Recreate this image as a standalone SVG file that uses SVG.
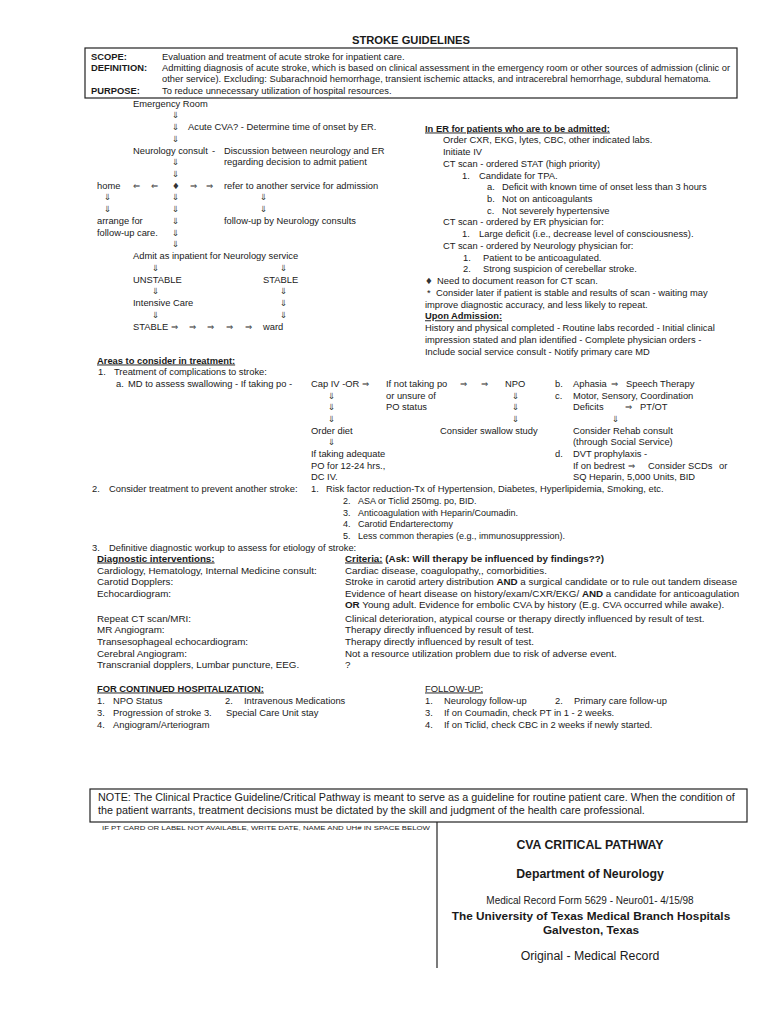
<svg xmlns="http://www.w3.org/2000/svg" width="768" height="1024" viewBox="0 0 768 1024" xml:space="preserve">
<style>
text{font-family:"Liberation Sans",Arial,Helvetica,sans-serif;font-size:9.35px;fill:#1a1a1a}
.b{font-weight:bold}
.u{text-decoration:underline}
.ar{font-family:"DejaVu Sans",sans-serif;font-size:8.6px;fill:#333}
.box{fill:none;stroke:#222;stroke-width:1.2}
.c{text-anchor:middle}
.big{font-size:12.3px;font-weight:bold}
.uni{font-size:11.8px;font-weight:bold}
.d text{font-size:9.8px}
.n text{font-size:10.75px}
.sm{font-size:9px}
</style>
<rect width="768" height="1024" fill="#fff"/>

<g id="header">
<text x="411" y="44" class="b c" style="font-size:11.2px">STROKE GUIDELINES</text>
<rect x="85" y="48" width="652" height="50" class="box"/>
<text x="91" y="59.5" class="b">SCOPE:</text>
<text x="162" y="59.5">Evaluation and treatment of acute stroke for inpatient care.</text>
<text x="91" y="70.5" class="b">DEFINITION:</text>
<text x="162" y="70.5">Admitting diagnosis of acute stroke, which is based on clinical assessment in the emergency room or other sources of admission (clinic or</text>
<text x="162" y="82">other service). Excluding: Subarachnoid hemorrhage, transient ischemic attacks, and intracerebral hemorrhage, subdural hematoma.</text>
<text x="91" y="93.5" class="b">PURPOSE:</text>
<text x="162" y="93.5">To reduce unnecessary utilization of hospital resources.</text>
</g>

<g id="n-er"><text x="133" y="106.5">Emergency Room</text></g>
<g id="n-acute"><text x="188" y="130">Acute CVA?  -  Determine time of onset by ER.</text></g>
<g id="n-neuro"><text x="133" y="153.5">Neurology consult</text><text x="212" y="153.5">-</text><text x="224" y="153.5">Discussion between neurology and ER</text><text x="224" y="165.2">regarding decision to admit patient</text></g>
<g id="n-home"><text x="97" y="188.7">home</text></g>
<g id="n-decision"><text x="172" y="188.7" class="ar">♦</text></g>
<g id="n-refer"><text x="224" y="188.7">refer to another service for admission</text></g>
<g id="n-arrange"><text x="97" y="223.9">arrange for</text><text x="97" y="235.6">follow-up care.</text></g>
<g id="n-followup"><text x="224" y="223.9">follow-up by Neurology consults</text></g>
<g id="n-admit"><text x="133" y="259.1">Admit as inpatient for Neurology service</text></g>
<g id="n-unstable"><text x="133" y="282.6">UNSTABLE</text></g>
<g id="n-stable1"><text x="263" y="282.6">STABLE</text></g>
<g id="n-icu"><text x="133" y="306.1">Intensive Care</text></g>
<g id="n-stable2"><text x="133" y="329.6">STABLE</text></g>
<g id="n-ward"><text x="263" y="329.6">ward</text></g>

<g id="connectors">
<text x="172" y="118.2" class="ar">⇓</text>
<text x="172" y="130" class="ar">⇓</text>
<text x="172" y="141.7" class="ar">⇓</text>
<text x="172" y="165.2" class="ar">⇓</text>
<text x="172" y="176.9" class="ar">⇓</text>
<text x="133" y="188.7" class="ar">⇐</text>
<text x="151" y="188.7" class="ar">⇐</text>
<text x="190" y="188.7" class="ar">⇒</text>
<text x="206" y="188.7" class="ar">⇒</text>
<text x="104" y="200.4" class="ar">⇓</text>
<text x="172" y="200.4" class="ar">⇓</text>
<text x="260" y="200.4" class="ar">⇓</text>
<text x="104" y="212.2" class="ar">⇓</text>
<text x="172" y="212.2" class="ar">⇓</text>
<text x="260" y="212.2" class="ar">⇓</text>
<text x="172" y="223.9" class="ar">⇓</text>
<text x="172" y="235.6" class="ar">⇓</text>
<text x="172" y="247.4" class="ar">⇓</text>
<text x="152" y="270.9" class="ar">⇓</text>
<text x="280" y="270.9" class="ar">⇓</text>
<text x="152" y="294.3" class="ar">⇓</text>
<text x="280" y="294.3" class="ar">⇓</text>
<text x="280" y="306.1" class="ar">⇓</text>
<text x="152" y="317.8" class="ar">⇓</text>
<text x="280" y="317.8" class="ar">⇓</text>
<text x="171" y="329.6" class="ar">⇒</text>
<text x="189" y="329.6" class="ar">⇒</text>
<text x="207" y="329.6" class="ar">⇒</text>
<text x="226" y="329.6" class="ar">⇒</text>
<text x="245" y="329.6" class="ar">⇒</text>
</g>

<g id="er-orders">
<text x="425" y="131.5" class="b u">In ER for patients who are to be admitted:</text>
<text x="443" y="143.2">Order CXR, EKG, lytes, CBC, other indicated labs.</text>
<text x="443" y="155">Initiate IV</text>
<text x="443" y="166.7">CT scan - ordered STAT (high priority)</text>
<text x="462" y="178.5">1.</text><text x="479" y="178.5">Candidate for TPA.</text>
<text x="487" y="190.2">a.</text><text x="502" y="190.2">Deficit with known time of onset less than 3 hours</text>
<text x="487" y="201.9">b.</text><text x="502" y="201.9">Not on anticoagulants</text>
<text x="487" y="213.7">c.</text><text x="502" y="213.7">Not severely hypertensive</text>
<text x="443" y="225.4">CT scan - ordered by ER physician for:</text>
<text x="462" y="237.2">1.</text><text x="479" y="237.2">Large deficit (i.e., decrease level of consciousness).</text>
<text x="443" y="248.9">CT scan - ordered by Neurology physician for:</text>
<text x="463" y="260.6">1.</text><text x="483" y="260.6">Patient to be anticoagulated.</text>
<text x="463" y="272.4">2.</text><text x="483" y="272.4">Strong suspicion of cerebellar stroke.</text>
<text x="425" y="284.1" class="ar">♦</text><text x="437" y="284.1">Need to document reason for CT scan.</text>
<text x="427" y="295.9">*</text><text x="436" y="295.9">Consider later if patient is stable and results of scan - waiting may</text>
<text x="425" y="307.6">improve diagnostic accuracy, and less likely to repeat.</text>
<text x="425" y="319.3" class="b u">Upon Admission:</text>
<text x="425" y="331.1">History and physical completed - Routine labs recorded - Initial clinical</text>
<text x="425" y="342.8">impression stated and plan identified - Complete physician orders  -</text>
<text x="425" y="354.6">Include social service consult - Notify primary care MD</text>
</g>

<g id="areas">
<text x="97" y="363.5" class="b u">Areas to consider in treatment:</text>
<text x="98" y="375.2">1.</text><text x="114" y="375.2">Treatment of complications to stroke:</text>
<text x="116" y="386.9">a.</text><text x="128" y="386.9">MD to assess swallowing - If taking po -</text>
<text x="311" y="386.9">Cap IV -OR</text><text x="362" y="386.9" class="ar">⇒</text>
<text x="386" y="386.9">If not taking po</text><text x="460" y="386.9" class="ar">⇒</text><text x="481" y="386.9" class="ar">⇒</text>
<text x="505" y="386.9">NPO</text>
<text x="555" y="386.9">b.</text><text x="573" y="386.9">Aphasia</text><text x="611" y="386.9" class="ar">⇒</text><text x="626" y="386.9">Speech Therapy</text>
<text x="328" y="398.6" class="ar">⇓</text><text x="386" y="398.6">or unsure of</text><text x="512" y="398.6" class="ar">⇓</text>
<text x="555" y="398.6">c.</text><text x="573" y="398.6">Motor, Sensory, Coordination</text>
<text x="328" y="410.3" class="ar">⇓</text><text x="386" y="410.3">PO status</text><text x="512" y="410.3" class="ar">⇓</text>
<text x="573" y="410.3">Deficits</text><text x="625" y="410.3" class="ar">⇒</text><text x="640" y="410.3">PT/OT</text>
<text x="328" y="421.9" class="ar">⇓</text><text x="512" y="421.9" class="ar">⇓</text><text x="612" y="421.9" class="ar">⇓</text>
<text x="311" y="433.6">Order diet</text><text x="440" y="433.6">Consider swallow study</text><text x="573" y="433.6">Consider Rehab consult</text>
<text x="328" y="445.3" class="ar">⇓</text><text x="573" y="445.3">(through Social Service)</text>
<text x="311" y="457">If taking adequate</text><text x="555" y="457">d.</text><text x="573" y="457">DVT prophylaxis -</text>
<text x="311" y="468.7">PO for 12-24 hrs.,</text><text x="573" y="468.7">If on bedrest</text><text x="628" y="468.7" class="ar">⇒</text><text x="648" y="468.7">Consider SCDs</text><text x="719" y="468.7">or</text>
<text x="311" y="480.4">DC IV.</text><text x="573" y="480.4">SQ Heparin, 5,000 Units, BID</text>
<text x="92" y="492.1">2.</text><text x="109" y="492.1">Consider treatment to prevent another stroke:</text>
<text x="311" y="492.1">1.</text><text x="326" y="492.1">Risk factor reduction-Tx of Hypertension, Diabetes, Hyperlipidemia, Smoking, etc.</text>
<text x="343" y="503.8" class="sm">2.</text><text x="358" y="503.8" class="sm">ASA or Ticlid 250mg. po, BID.</text>
<text x="343" y="515.5" class="sm">3.</text><text x="358" y="515.5" class="sm">Anticoagulation with Heparin/Coumadin.</text>
<text x="343" y="527.2" class="sm">4.</text><text x="358" y="527.2" class="sm">Carotid Endarterectomy</text>
<text x="343" y="538.9" class="sm">5.</text><text x="358" y="538.9" class="sm">Less common therapies (e.g., immunosuppression).</text>
<text x="92" y="550.5">3.</text><text x="109" y="550.5">Definitive diagnostic workup to assess for etiology of stroke:</text>
</g>

<g id="diagnostic" class="d">
<text x="97" y="561.5" class="b u">Diagnostic interventions:</text>
<text x="345" y="561.5" class="b"><tspan class="u">Criteria:</tspan>  (Ask:  Will therapy be influenced by findings??)</text>
<text x="97" y="573.5">Cardiology, Hematology, Internal Medicine consult:</text>
<text x="345" y="573.5">Cardiac disease, coagulopathy,, comorbidities.</text>
<text x="97" y="585">Carotid Dopplers:</text>
<text x="345" y="585">Stroke in carotid artery distribution <tspan class="b">AND</tspan> a surgical candidate or to rule out tandem disease</text>
<text x="97" y="596.5">Echocardiogram:</text>
<text x="345" y="596.5">Evidence of heart disease on history/exam/CXR/EKG/ <tspan class="b">AND</tspan> a candidate for anticoagulation</text>
<text x="345" y="608"><tspan class="b">OR</tspan> Young adult.  Evidence for embolic CVA by history (E.g. CVA occurred while awake).</text>
<text x="97" y="621.5">Repeat CT scan/MRI:</text>
<text x="345" y="621.5">Clinical deterioration, atypical course or therapy directly influenced by result of test.</text>
<text x="97" y="633">MR Angiogram:</text>
<text x="345" y="633">Therapy directly influenced by result of test.</text>
<text x="97" y="645">Transesophageal echocardiogram:</text>
<text x="345" y="645">Therapy directly influenced by result of test.</text>
<text x="97" y="656.5">Cerebral Angiogram:</text>
<text x="345" y="656.5">Not a resource utilization problem due to risk of adverse event.</text>
<text x="97" y="668">Transcranial dopplers, Lumbar puncture, EEG.</text>
<text x="345" y="668">?</text>
</g>

<g id="hospitalization">
<text x="97" y="691.5" class="b u">FOR CONTINUED HOSPITALIZATION:</text>
<text x="97" y="703.5">1.</text><text x="113" y="703.5">NPO Status</text>
<text x="225" y="703.5">2.</text><text x="244" y="703.5">Intravenous Medications</text>
<text x="97" y="715.5">3.</text><text x="113" y="715.5">Progression of stroke 3.</text><text x="226" y="715.5">Special Care Unit stay</text>
<text x="97" y="727.5">4.</text><text x="113" y="727.5">Angiogram/Arteriogram</text>
</g>

<g id="followup">
<text x="425" y="691.5" class="u">FOLLOW-UP:</text>
<text x="425" y="703.5">1.</text><text x="444" y="703.5">Neurology follow-up</text>
<text x="555" y="703.5">2.</text><text x="574" y="703.5">Primary care follow-up</text>
<text x="425" y="715.5">3.</text><text x="444" y="715.5">If on Coumadin, check PT in 1 - 2 weeks.</text>
<text x="425" y="727.5">4.</text><text x="444" y="727.5">If on Ticlid, check CBC in 2 weeks if newly started.</text>
</g>

<g id="note" class="n">
<rect x="90" y="789" width="657" height="33" class="box"/>
<text x="98" y="801">NOTE:  The Clinical Practice Guideline/Critical Pathway is meant to serve as a guideline for routine patient care.  When the condition of</text>
<text x="98" y="814">the patient warrants, treatment decisions must be dictated by the skill and judgment of the health care professional.</text>
</g>

<g id="footer">
<text x="102" y="830" style="font-size:6.2px" textLength="328" lengthAdjust="spacingAndGlyphs">IF PT CARD OR LABEL NOT AVAILABLE, WRITE DATE, NAME  AND UH# IN SPACE BELOW</text>
<line x1="437" y1="822" x2="437" y2="968" stroke="#222" stroke-width="1.2"/>
<text x="590" y="849" class="big c">CVA CRITICAL PATHWAY</text>
<text x="590" y="877.5" class="big c">Department of Neurology</text>
<text x="590" y="904" class="c" style="font-size:10px">Medical Record Form 5629 - Neuro01- 4/15/98</text>
<text x="591" y="919.5" class="uni c">The University of Texas Medical Branch Hospitals</text>
<text x="591" y="934" class="uni c">Galveston, Texas</text>
<text x="590" y="960" class="c" style="font-size:12.3px">Original - Medical Record</text>
</g>
</svg>
